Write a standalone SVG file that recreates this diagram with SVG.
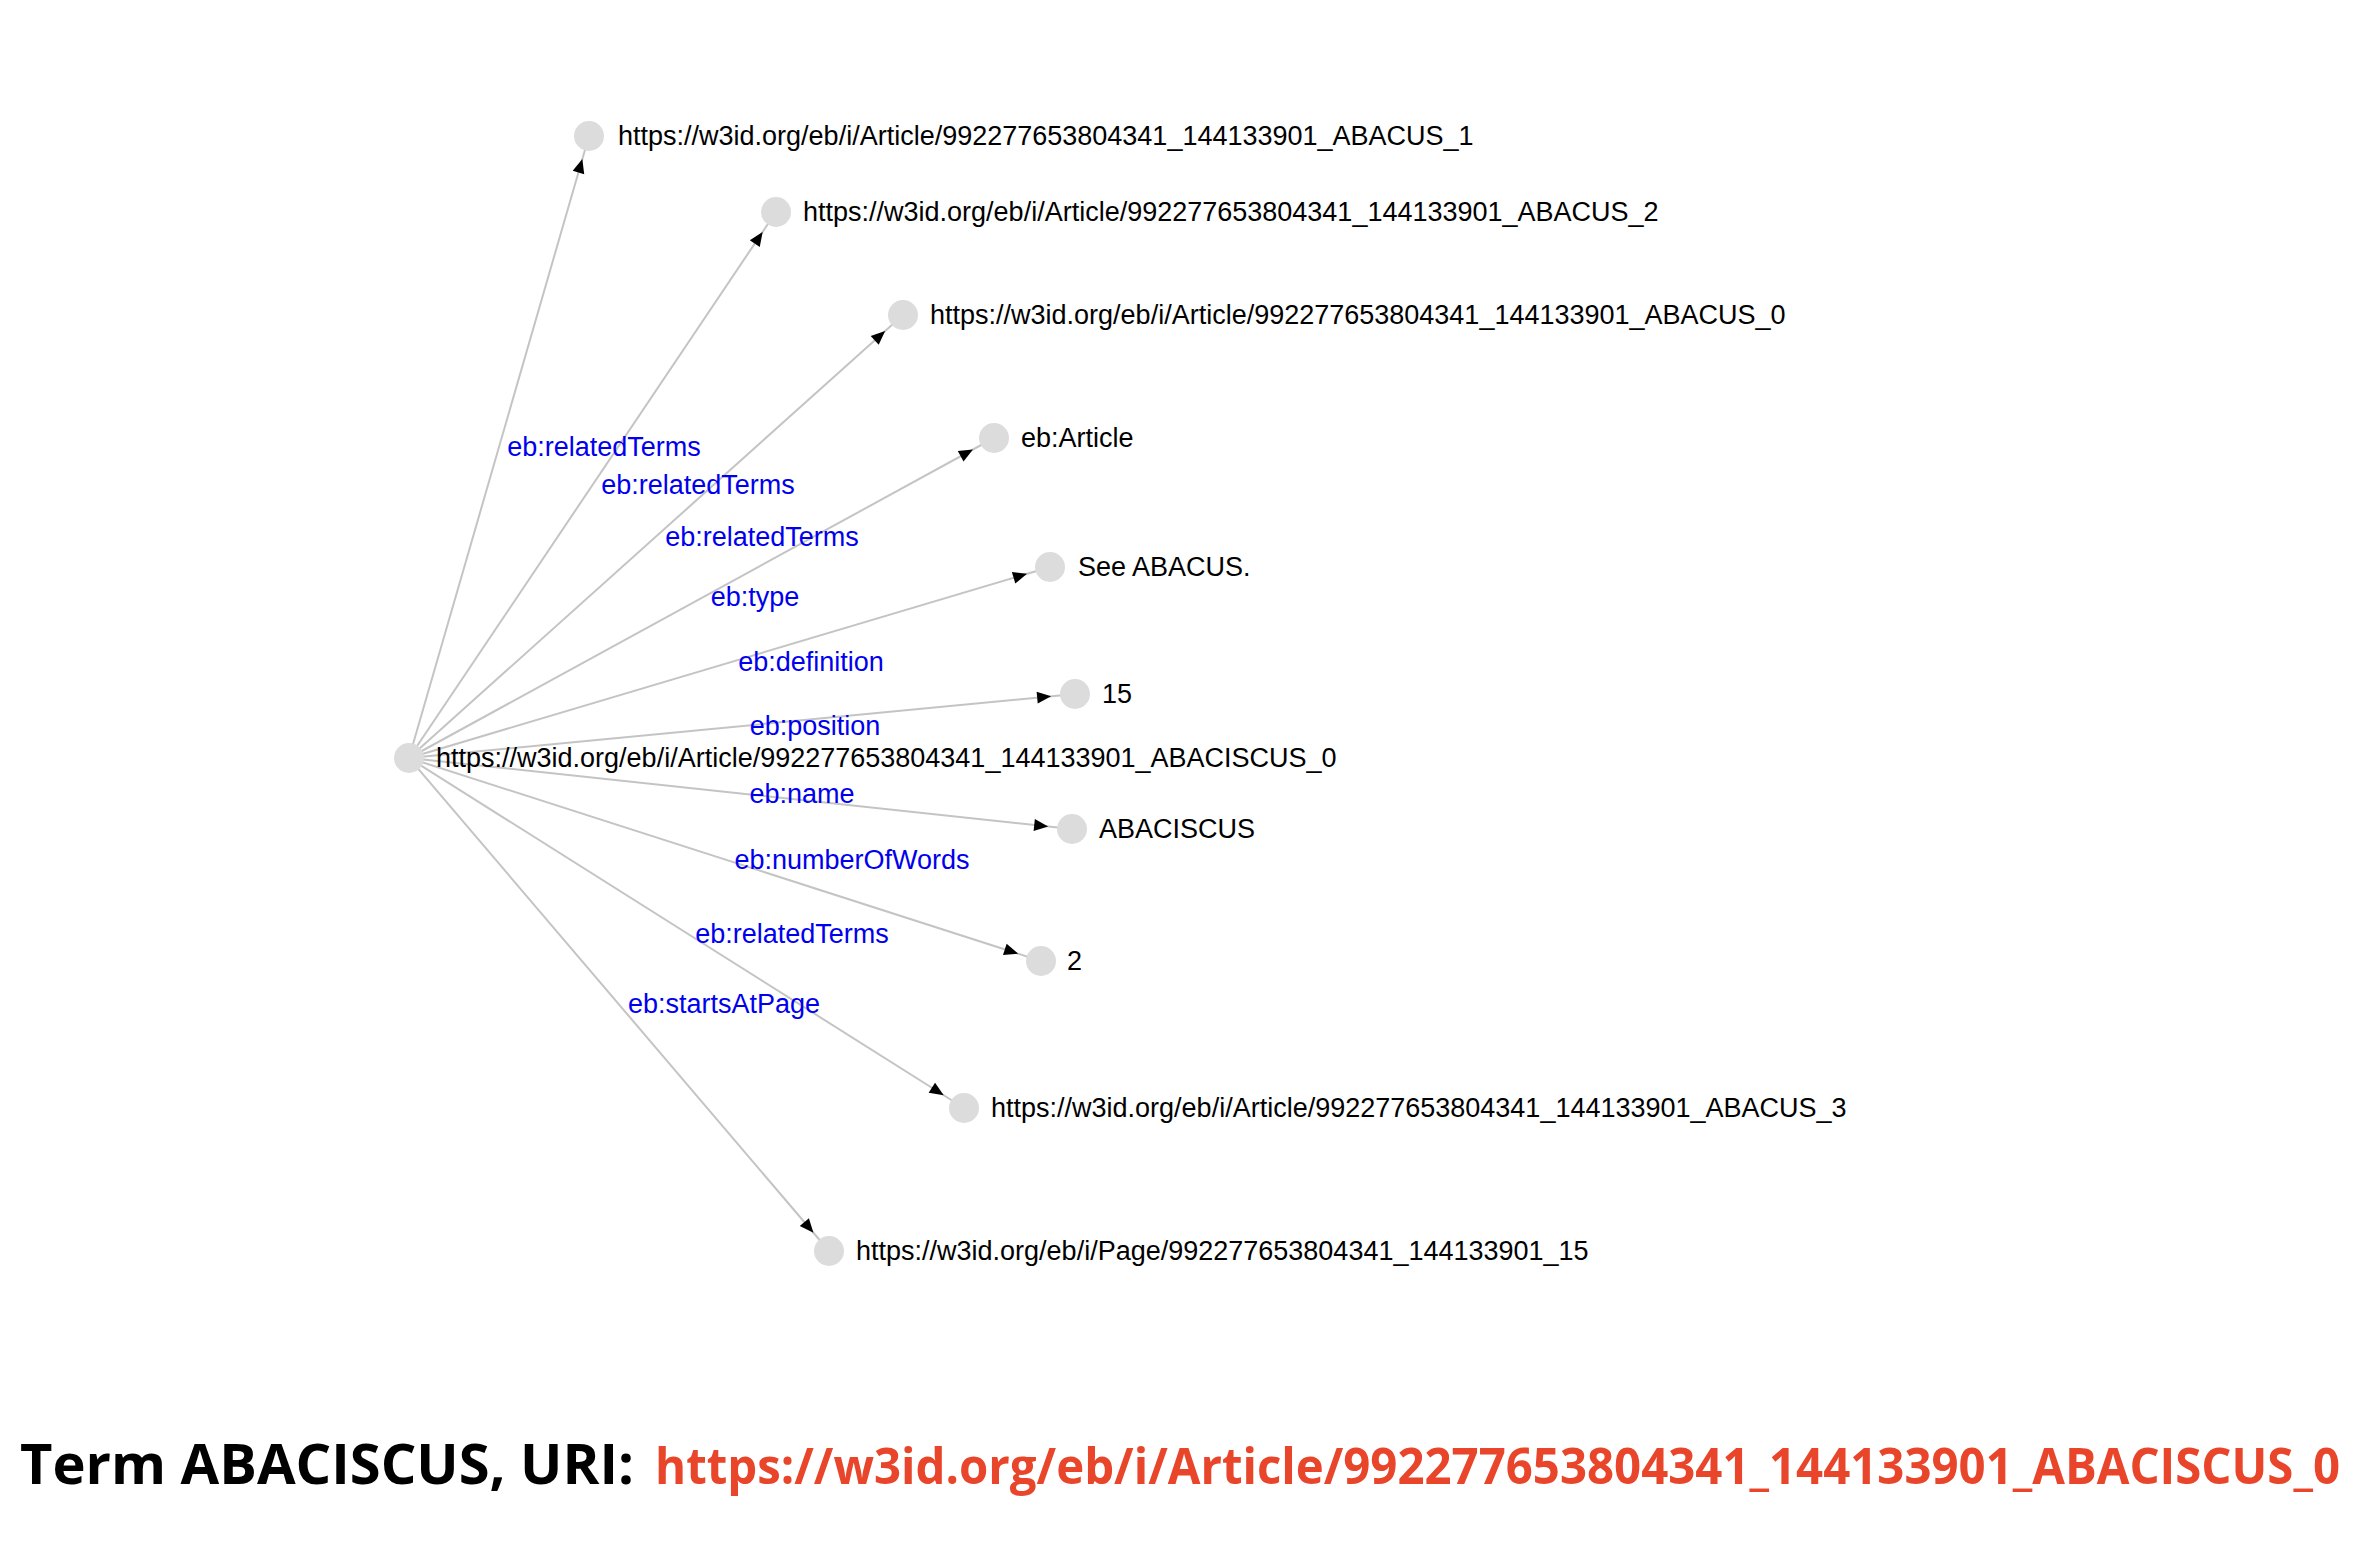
<svg xmlns="http://www.w3.org/2000/svg" width="2366" height="1544" viewBox="0 0 2366 1544">
<style>
.e{stroke:#c4c4c4;stroke-width:2;fill:none;marker-end:url(#a)}
.n{fill:#dcdcdc}
.t{font-family:"Liberation Sans",Arial,sans-serif;font-size:27px;fill:#000}
.l{font-family:"Liberation Sans",Arial,sans-serif;font-size:27px;fill:#0000ee;text-anchor:middle}
.c{font-family:"Open Sans",sans-serif;font-weight:bold}
</style>
<defs><marker id="a" markerUnits="userSpaceOnUse" markerWidth="60" markerHeight="20" viewBox="-40 -10 60 20" refX="24" refY="0" orient="auto"><path d="M-14,-6 L0,0 L-14,6 Z" fill="#000"/></marker></defs>
<rect width="2366" height="1544" fill="#fff"/>
<g transform="translate(-4,-5)">
<g id="connectors">
<line class="e" x1="413" y1="763" x2="593" y2="141"/>
<line class="e" x1="413" y1="763" x2="780" y2="217"/>
<line class="e" x1="413" y1="763" x2="907" y2="320"/>
<line class="e" x1="413" y1="763" x2="998" y2="443"/>
<line class="e" x1="413" y1="763" x2="1054" y2="572"/>
<line class="e" x1="413" y1="763" x2="1079" y2="699"/>
<line class="e" x1="413" y1="763" x2="1076" y2="834"/>
<line class="e" x1="413" y1="763" x2="1045" y2="966"/>
<line class="e" x1="413" y1="763" x2="968" y2="1113"/>
<line class="e" x1="413" y1="763" x2="833" y2="1256"/>
<text class="l" x="608" y="461">eb:relatedTerms</text>
<text class="l" x="702" y="499">eb:relatedTerms</text>
<text class="l" x="766" y="551">eb:relatedTerms</text>
<text class="l" x="759" y="611">eb:type</text>
<text class="l" x="815" y="676">eb:definition</text>
<text class="l" x="819" y="740">eb:position</text>
<text class="l" x="806" y="808">eb:name</text>
<text class="l" x="856" y="874">eb:numberOfWords</text>
<text class="l" x="796" y="948">eb:relatedTerms</text>
<text class="l" x="728" y="1018">eb:startsAtPage</text>
</g>
<g id="n1"><circle class="n" cx="593" cy="141" r="15"/><text class="t" x="622" y="150">https://w3id.org/eb/i/Article/992277653804341_144133901_ABACUS_1</text></g>
<g id="n2"><circle class="n" cx="780" cy="217" r="15"/><text class="t" x="807" y="226">https://w3id.org/eb/i/Article/992277653804341_144133901_ABACUS_2</text></g>
<g id="n3"><circle class="n" cx="907" cy="320" r="15"/><text class="t" x="934" y="329">https://w3id.org/eb/i/Article/992277653804341_144133901_ABACUS_0</text></g>
<g id="n4"><circle class="n" cx="998" cy="443" r="15"/><text class="t" x="1025" y="452">eb:Article</text></g>
<g id="n5"><circle class="n" cx="1054" cy="572" r="15"/><text class="t" x="1082" y="581">See ABACUS.</text></g>
<g id="n6"><circle class="n" cx="1079" cy="699" r="15"/><text class="t" x="1106" y="708">15</text></g>
<g id="n7"><circle class="n" cx="1076" cy="834" r="15"/><text class="t" x="1103" y="843">ABACISCUS</text></g>
<g id="n8"><circle class="n" cx="1045" cy="966" r="15"/><text class="t" x="1071" y="975">2</text></g>
<g id="n9"><circle class="n" cx="968" cy="1113" r="15"/><text class="t" x="995" y="1122">https://w3id.org/eb/i/Article/992277653804341_144133901_ABACUS_3</text></g>
<g id="n10"><circle class="n" cx="833" cy="1256" r="15"/><text class="t" x="860" y="1265">https://w3id.org/eb/i/Page/992277653804341_144133901_15</text></g>
<g id="center"><circle class="n" cx="413" cy="763" r="15"/><text class="t" x="440" y="772">https://w3id.org/eb/i/Article/992277653804341_144133901_ABACISCUS_0</text></g>
</g>
<g id="caption">
<text class="c" x="20" y="1484" font-size="56" fill="#000" textLength="614" lengthAdjust="spacingAndGlyphs">Term ABACISCUS, URI:</text>
<text class="c" x="655" y="1484" font-size="50" fill="#e8452a" textLength="1685" lengthAdjust="spacingAndGlyphs">https://w3id.org/eb/i/Article/992277653804341_144133901_ABACISCUS_0</text>
</g>
</svg>
